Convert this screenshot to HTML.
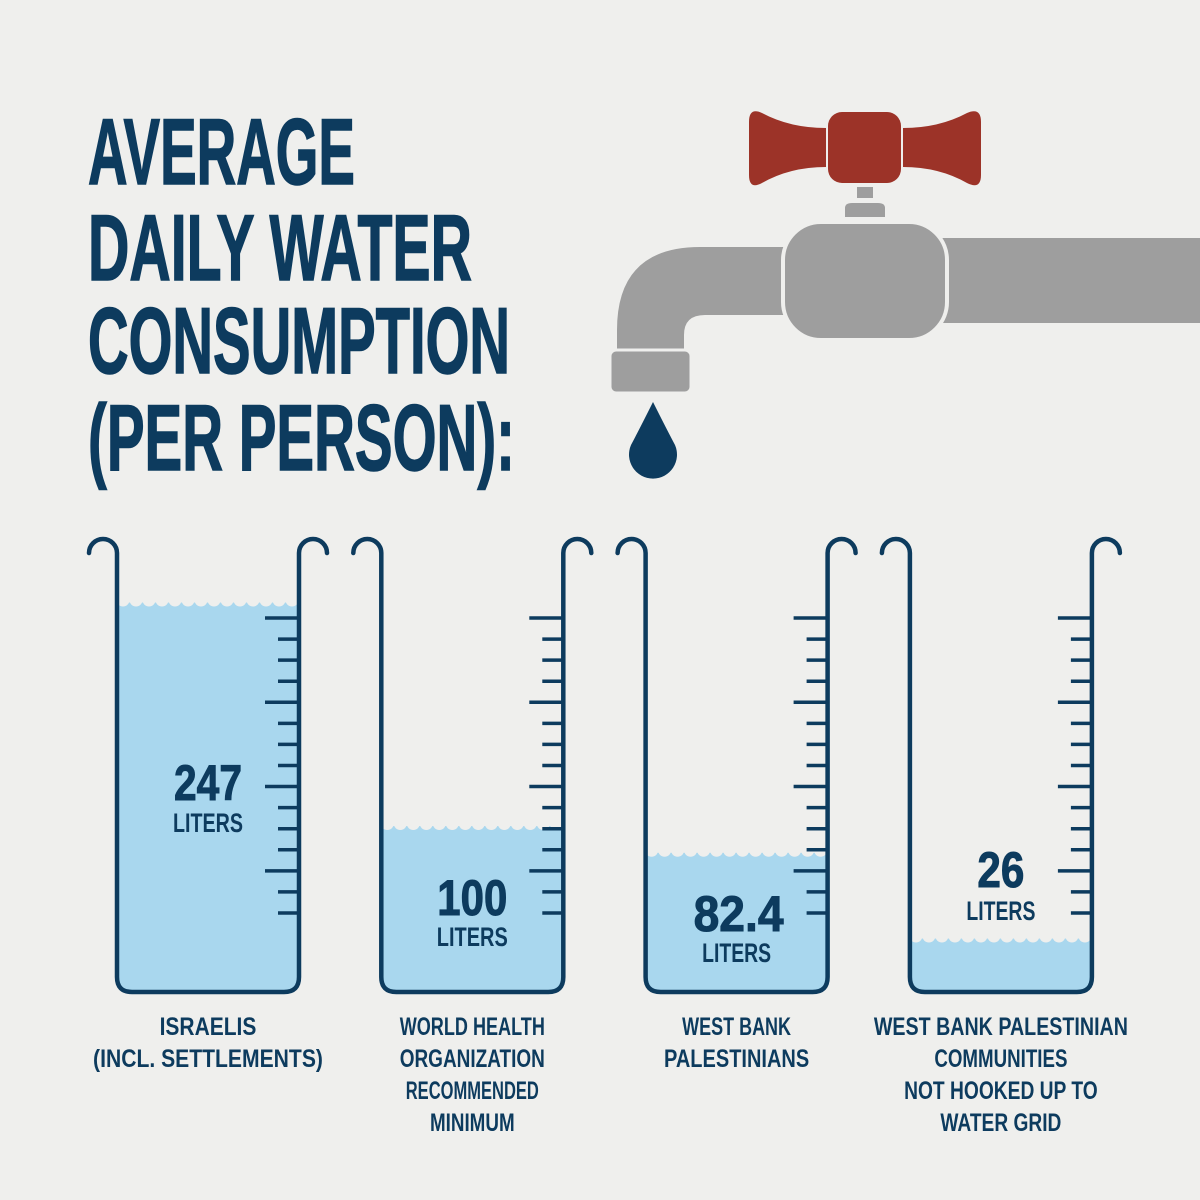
<!DOCTYPE html>
<html><head><meta charset="utf-8"><style>
html,body{margin:0;padding:0;background:#efefed;}
svg{display:block}
text{font-family:"Liberation Sans",sans-serif;font-weight:bold;fill:#0d3b5e}
</style></head><body>
<svg id="chart" width="1200" height="1200" viewBox="0 0 1200 1200" xmlns="http://www.w3.org/2000/svg">
<rect width="1200" height="1200" fill="#efefed"/>
<g>
<text x="88" y="184" font-size="94" textLength="267" lengthAdjust="spacingAndGlyphs" stroke="#0d3b5e" stroke-width="1.5">AVERAGE</text>
<text x="88" y="280" font-size="94" textLength="384" lengthAdjust="spacingAndGlyphs" stroke="#0d3b5e" stroke-width="1.5">DAILY WATER</text>
<text x="88" y="373" font-size="94" textLength="422" lengthAdjust="spacingAndGlyphs" stroke="#0d3b5e" stroke-width="1.5">CONSUMPTION</text>
<text x="88" y="470" font-size="94" textLength="427" lengthAdjust="spacingAndGlyphs" stroke="#0d3b5e" stroke-width="1.5">(PER PERSON):</text>
</g>
<g>
<rect x="940" y="238" width="260" height="85" fill="#9e9e9e"/>
<path d="M790 247 L700 247 Q617 247 617 330 L617 352 L684 352 L684 335 Q684 315 705 315 L790 315 Z" fill="#9e9e9e"/>
<rect x="610" y="350" width="81" height="43" rx="6" fill="#9e9e9e" stroke="#efefed" stroke-width="3"/>
<rect x="783" y="222" width="164" height="118" rx="38" fill="#9e9e9e" stroke="#efefed" stroke-width="4"/>
<path d="M845 217 L845 208 Q845 203 852 203 L878 203 Q885 203 885 208 L885 217 Z" fill="#9e9e9e"/>
<rect x="857" y="187" width="16" height="11" fill="#9e9e9e"/>
<path d="M826 128 Q790 128 762 113 Q749 107 749 122 L749 175 Q749 190 762 183 Q790 167 826 167 Z" fill="#9c3328"/>
<path d="M903 128 Q939 128 967 113 Q981 107 981 122 L981 175 Q981 190 967 183 Q939 167 903 167 Z" fill="#9c3328"/>
<rect x="828" y="112" width="73" height="71" rx="14" fill="#9c3328"/>
<path d="M653 402 Q640 428 631 445 A24 24 0 1 0 675 445 Q666 428 653 402 Z" fill="#0d3b5e"/>
</g>
<g id="beakers"></g>
</svg>
<script>
const categories = ["ISRAELIS|(INCL. SETTLEMENTS)","WORLD HEALTH|ORGANIZATION|RECOMMENDED|MINIMUM","WEST BANK|PALESTINIANS","WEST BANK PALESTINIAN|COMMUNITIES|NOT HOOKED UP TO|WATER GRID"];
const values = [247, 100, 82.4, 26];
const valueLabels = ["247", "100", "82.4", "26"];
const unitLabel = "LITERS";

const NS = "http://www.w3.org/2000/svg";
const NAVY = "#0d3b5e", WATER = "#a9d7ee", BG = "#efefed";
const bottomY = 992;
function yScale(v){ return bottomY - 14 - v * 1.52; }
const beakerW = 182, topY = 553;
function beakerX(i){ return 117 + i * 264.3; }
const numLayout = [[800,832,68,70],[915,946,70,71],[931,962,90,69],[887,920,47,69]];
const g = document.getElementById("beakers");
function mk(tag, attrs, parent){ const e=document.createElementNS(NS,tag); for(const k in attrs) e.setAttribute(k,attrs[k]); (parent||g).appendChild(e); return e; }

values.forEach((v, i) => {
  const x0 = beakerX(i), x1 = x0 + beakerW, cx = (x0 + x1) / 2;
  const bg = mk("g", {});
  
  
  const wy = yScale(v);
  const water = mk("path", {d:`M${x0} ${wy} L${x1} ${wy} L${x1} ${bottomY-15} Q${x1} ${bottomY} ${x1-15} ${bottomY} L${x0+15} ${bottomY} Q${x0} ${bottomY} ${x0} ${bottomY-15} Z`, fill:WATER}, bg);
  
  
  for (let wx = x0 + 6; wx < x1; wx += 13) {
    const c = mk("circle", {cx:wx, cy:wy-2.5, r:6.5, fill:BG}, bg);
    
    
  }
  for (let k = 0; k < 15; k++) {
    const ty = 618 + k * 21.07;
    const len = (k % 4 === 0) ? 34 : 21;
    const t = mk("line", {x1:x1-len, x2:x1, y1:ty, y2:ty, stroke:NAVY, "stroke-width":3.5}, bg);
    
    
  }
  const outline = mk("path", {d:`M${x0-28} ${topY} A14 14 0 0 1 ${x0} ${topY} L${x0} ${bottomY-15} Q${x0} ${bottomY} ${x0+15} ${bottomY} L${x1-15} ${bottomY} Q${x1} ${bottomY} ${x1} ${bottomY-15} L${x1} ${topY} A14 14 0 0 1 ${x1+28} ${topY}`, fill:"none", stroke:NAVY, "stroke-width":4.5, "stroke-linecap":"round"}, bg);
  
  
  const L = numLayout[i];
  const nt = mk("text", {x:cx-L[2]/2+ (i===2?2:0), y:L[0], "font-size":50, textLength:L[2], lengthAdjust:"spacingAndGlyphs", stroke:NAVY, "stroke-width":1}, bg);
  nt.textContent = valueLabels[i];
  
  
  const ut = mk("text", {x:cx-L[3]/2, y:L[1], "font-size":27, textLength:L[3], lengthAdjust:"spacingAndGlyphs"}, bg);
  ut.textContent = unitLabel;
  
  
  categories[i].split("|").forEach((line, j) => {
    const ct = mk("text", {x:cx, y:1035 + j*32, "font-size":25, "text-anchor":"middle", textLength:line.length*12.1, lengthAdjust:"spacingAndGlyphs"}, bg);
    ct.textContent = line;
    
    
  });
});
</script>
</body></html>
